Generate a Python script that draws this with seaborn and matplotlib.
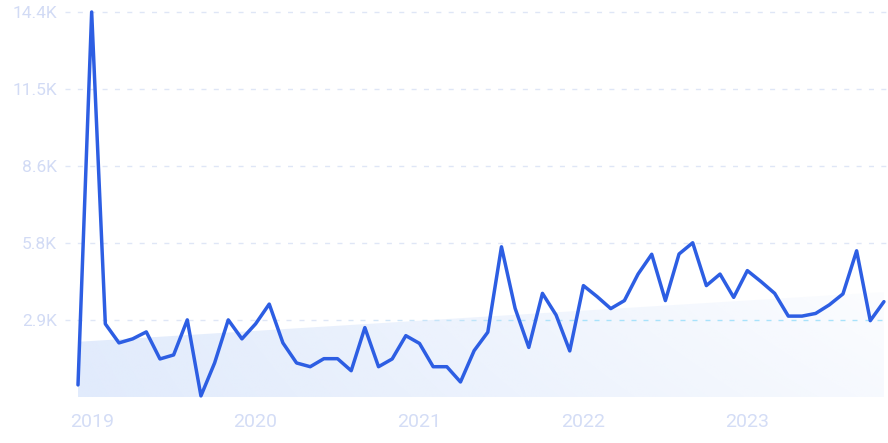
import numpy as np
import pandas as pd
import matplotlib
matplotlib.use("Agg")
import matplotlib.pyplot as plt
import seaborn as sns
from matplotlib.collections import LineCollection
from matplotlib.colors import to_rgb
from matplotlib.path import Path
from matplotlib.patches import PathPatch

# ---- data (monthly, Dec 2018 .. Nov 2023), values in thousands ----
month_labels = pd.date_range("2018-12-01", periods=60, freq="MS").strftime("%Y-%m").tolist()
values_k = [
    0.47,
    14.4, 2.75, 2.04, 2.19, 2.45, 1.44, 1.59, 2.90, 0.06, 1.29, 2.90, 2.19,
    2.75, 3.49, 2.04, 1.29, 1.15, 1.45, 1.45, 1.00, 2.61, 1.15, 1.44, 2.31,
    2.02, 1.15, 1.15, 0.58, 1.75, 2.44, 5.63, 3.33, 1.87, 3.89, 3.08, 1.74,
    4.18, 3.77, 3.32, 3.62, 4.61, 5.35, 3.62, 5.36, 5.78, 4.18, 4.61, 3.74,
    4.74, 4.33, 3.89, 3.04, 3.04, 3.14, 3.46, 3.87, 5.48, 2.87, 3.58,
]
trend_idx = [0, 59]
trend_k = [2.08, 3.94]
year_idx = [1, 13, 25, 37, 49]
year_labels = ["2019", "2020", "2021", "2022", "2023"]
ytick_vals = [2880, 5760, 8640, 11520, 14400]
ytick_labels = ["2.9K", "5.8K", "8.6K", "11.5K", "14.4K"]

df = pd.DataFrame({
    "idx": np.arange(len(values_k)),
    "month": month_labels,
    "value": np.array(values_k) * 1000,
})

sns.set_theme(style="white")
plt.rcParams["font.family"] = ["Roboto", "DejaVu Sans"]

W, H = 888, 443
fig = plt.figure(figsize=(W / 100, H / 100), dpi=100)
ax_left, ax_right = 65, 888
ax_bottom, ax_top = 397.5, 5
ax = fig.add_axes([ax_left / W, (H - ax_bottom) / H,
                   (ax_right - ax_left) / W, (ax_bottom - ax_top) / H])

px_per_idx = 13.66
x0 = (ax_left - 78) / px_per_idx
x1 = (ax_right - 78) / px_per_idx
ymax = 14400 * (ax_bottom - ax_top) / (ax_bottom - 12)

# ---- gradient trend area ----
tx = np.array(trend_idx, dtype=float)
ty = np.array(trend_k) * 1000
verts = [(tx[0], 0), (tx[0], ty[0]), (tx[1], ty[1]), (tx[1], 0), (tx[0], 0)]
codes = [Path.MOVETO, Path.LINETO, Path.LINETO, Path.LINETO, Path.CLOSEPOLY]
patch = PathPatch(Path(verts, codes), facecolor="none", edgecolor="none")
ax.add_patch(patch)
nx, ny = 300, 100
u = np.linspace(0, 1, nx)[None, :]
v = np.linspace(0, 1, ny)[:, None]
base = np.array(to_rgb("#e1ebfc"))
alpha = np.clip(1.0 - 0.72 * u - 0.12 * v * u - 0.05 * v, 0.04, 1)
img = np.zeros((ny, nx, 4))
img[..., :3] = base
img[..., 3] = alpha
im = ax.imshow(img, extent=[tx[0], tx[1], ty.max(), 0], origin="upper",
               aspect="auto", zorder=1, interpolation="bilinear")
im.set_clip_path(patch)
ax.set_ylim(0, ymax)
ax.set_xlim(x0, x1)

# ---- gridlines ----
grid_col = "#dfe6f6"
for yv in ytick_vals[1:]:
    ax.axhline(yv, color=grid_col, lw=1.0, ls=(0, (3.6, 5.3)), zorder=2)
# 2.9K line with colour shifting to cyan
period = 12.3 / px_per_idx
dash = 5.0 / px_per_idx
starts = np.arange(x0, x1, period)
segs = [[(s, ytick_vals[0]), (min(s + dash, x1), ytick_vals[0])] for s in starts]
c0 = np.array(to_rgb(grid_col))
c1 = np.array(to_rgb("#a8e2fb"))
cols = []
for s in starts:
    xpx = 78 + s * px_per_idx
    t = np.clip((xpx - 320) / 250, 0, 1)
    cols.append(c0 * (1 - t) + c1 * t)
ax.add_collection(LineCollection(segs, colors=cols, linewidths=1.0, zorder=2))

# ---- main line ----
sns.lineplot(data=df, x="idx", y="value", ax=ax, color="#2d5ee3",
             linewidth=2.5, zorder=3, clip_on=False)

# ---- axes styling ----
for sp in ax.spines.values():
    sp.set_visible(False)
ax.set_yticks(ytick_vals)
ax.set_yticklabels(ytick_labels)
ax.set_xticks(year_idx)
ax.set_xticklabels(year_labels)
ax.tick_params(axis="y", length=0, pad=5.8, labelsize=12.5, labelcolor="#d2dbf5")
ax.tick_params(axis="x", length=0, pad=11, labelsize=14, labelcolor="#d4ddf6")
ax.set_xlabel("")
ax.set_ylabel("")
ax.grid(False)
ax.set_facecolor("white")
ax.set_ylim(0, ymax)
ax.set_xlim(x0, x1)

fig.savefig("out.png", dpi=100, facecolor="white")
